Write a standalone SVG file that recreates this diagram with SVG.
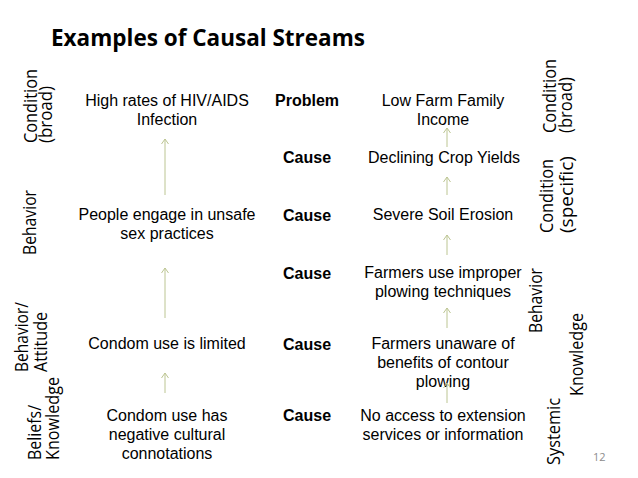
<svg xmlns="http://www.w3.org/2000/svg" width="638" height="478" viewBox="0 0 638 478">
<style>
.t{font-family:"Liberation Sans",Arial,sans-serif;font-size:16px;fill:#000;text-anchor:middle}
.b{font-family:"Liberation Sans",Arial,sans-serif;font-size:16px;font-weight:bold;fill:#000}
.v{font-family:"Open Sans","Noto Sans",sans-serif;font-size:17.5px;fill:#000}
.ttl{font-family:"Open Sans","Noto Sans",sans-serif;font-size:23px;font-weight:bold;fill:#000}
.pg{font-family:"Open Sans","Noto Sans",sans-serif;font-size:11px;fill:#8c8c8c}
.a{stroke:#bcc592;stroke-width:1;fill:none;marker-end:url(#ah)}
</style>
<defs>
<marker id="ah" viewBox="-6 -5 8 10" markerWidth="8" markerHeight="10" orient="auto" markerUnits="userSpaceOnUse">
<path d="M-5,-3.5 L0,0 L-5,3.5" fill="none" stroke="#bcc592" stroke-width="1"/>
</marker>
</defs>
<rect width="638" height="478" fill="#fff"/>
<text class="ttl" x="51" y="46" textLength="314" lengthAdjust="spacingAndGlyphs">Examples of Causal Streams</text>

<g id="labels-left">
<text class="v" transform="translate(37,143) rotate(-90)" textLength="74" lengthAdjust="spacingAndGlyphs">Condition</text>
<text class="v" transform="translate(52,143) rotate(-90)" textLength="57" lengthAdjust="spacingAndGlyphs">(broad)</text>
<text class="v" transform="translate(36,255) rotate(-90)" textLength="65" lengthAdjust="spacingAndGlyphs">Behavior</text>
<text class="v" transform="translate(28,372) rotate(-90)" textLength="70" lengthAdjust="spacingAndGlyphs">Behavior/</text>
<text class="v" transform="translate(47,372) rotate(-90)" textLength="60" lengthAdjust="spacingAndGlyphs">Attitude</text>
<text class="v" transform="translate(41,460) rotate(-90)" textLength="55" lengthAdjust="spacingAndGlyphs">Beliefs/</text>
<text class="v" transform="translate(59,460) rotate(-90)" textLength="83" lengthAdjust="spacingAndGlyphs">Knowledge</text>
</g>
<g id="labels-right">
<text class="v" transform="translate(556,133) rotate(-90)" textLength="74" lengthAdjust="spacingAndGlyphs">Condition</text>
<text class="v" transform="translate(572,133) rotate(-90)" textLength="56" lengthAdjust="spacingAndGlyphs">(broad)</text>
<text class="v" transform="translate(553,233) rotate(-90)" textLength="74" lengthAdjust="spacingAndGlyphs">Condition</text>
<text class="v" transform="translate(573,233) rotate(-90)" textLength="77" lengthAdjust="spacingAndGlyphs">(specific)</text>
<text class="v" transform="translate(542,333) rotate(-90)" textLength="65" lengthAdjust="spacingAndGlyphs">Behavior</text>
<text class="v" transform="translate(583,396) rotate(-90)" textLength="83" lengthAdjust="spacingAndGlyphs">Knowledge</text>
<text class="v" transform="translate(560,465) rotate(-90)" textLength="67" lengthAdjust="spacingAndGlyphs">Systemic</text>
</g>

<g id="mid-labels">
<text class="b" x="275" y="106">Problem</text>
<text class="b" x="283" y="163">Cause</text>
<text class="b" x="283" y="221">Cause</text>
<text class="b" x="283" y="279">Cause</text>
<text class="b" x="283" y="350">Cause</text>
<text class="b" x="283" y="421">Cause</text>
</g>

<g id="l1"><text class="t" x="167" y="106">High rates of HIV/AIDS</text><text class="t" x="167" y="125">Infection</text></g>
<g id="l2"><text class="t" x="167" y="220">People engage in unsafe</text><text class="t" x="167" y="239">sex practices</text></g>
<g id="l3"><text class="t" x="167" y="349">Condom use is limited</text></g>
<g id="l4"><text class="t" x="167" y="421">Condom use has</text><text class="t" x="167" y="440">negative cultural</text><text class="t" x="167" y="459">connotations</text></g>

<g id="r1"><text class="t" x="443" y="106">Low Farm Family</text><text class="t" x="443" y="125">Income</text></g>
<g id="r2"><text class="t" x="444" y="163">Declining Crop Yields</text></g>
<g id="r3"><text class="t" x="443" y="220">Severe Soil Erosion</text></g>
<g id="r4"><text class="t" x="443" y="278">Farmers use improper</text><text class="t" x="443" y="297">plowing techniques</text></g>
<g id="r5"><text class="t" x="443" y="349">Farmers unaware of</text><text class="t" x="443" y="368">benefits of contour</text><text class="t" x="443" y="387">plowing</text></g>
<g id="r6"><text class="t" x="443" y="421">No access to extension</text><text class="t" x="443" y="440">services or information</text></g>

<g id="connectors">
<line class="a" x1="165" y1="195" x2="165" y2="139"/>
<line class="a" x1="165" y1="318" x2="165" y2="268"/>
<line class="a" x1="165" y1="393" x2="165" y2="373"/>
<line class="a" x1="447" y1="147" x2="447" y2="128"/>
<line class="a" x1="447" y1="195" x2="447" y2="177"/>
<line class="a" x1="447" y1="255" x2="447" y2="235"/>
<line class="a" x1="447" y1="328" x2="447" y2="308"/>
<line class="a" x1="447" y1="403" x2="447" y2="383"/>
</g>
<text class="pg" x="593" y="461">12</text>
</svg>
